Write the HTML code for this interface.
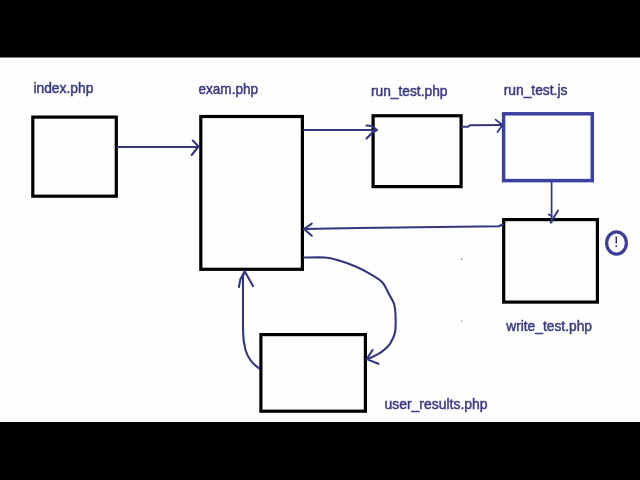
<!DOCTYPE html>
<html><head><meta charset="utf-8">
<style>
html,body{margin:0;padding:0;background:#fff;width:640px;height:480px;overflow:hidden}
svg{display:block;filter:blur(0.35px)}
text{font-family:"Liberation Sans",sans-serif;font-size:15px;fill:#393b80;stroke:#393b80;stroke-width:0.5px}
</style></head><body>
<svg width="640" height="480" viewBox="0 0 640 480">
<rect x="0" y="0" width="640" height="480" fill="#fefefe"/>
<rect x="0" y="0" width="640" height="57.5" fill="#000"/>
<rect x="0" y="422" width="640" height="58" fill="#000"/>

<g fill="none" stroke="#000" stroke-width="3.2">
<rect x="32.8" y="117.1" width="83.5" height="79.1"/>
<rect x="200.8" y="116.5" width="101.6" height="152.8"/>
<rect x="373.1" y="115.75" width="88" height="70.85"/>
<rect x="503.7" y="219.6" width="93.7" height="82.5"/>
<rect x="260.9" y="334.6" width="104.5" height="76.6"/>
</g>
<rect x="503.6" y="113.8" width="88.7" height="66.8" fill="none" stroke="#3c41a0" stroke-width="3.5"/>

<g fill="none" stroke="#33367e" stroke-width="2.1" stroke-linecap="round" stroke-linejoin="round">
<!-- index -> exam -->
<path d="M118 147 L199 147"/>
<path d="M192.8 140.5 L198.5 146.5 L191.7 155"/>
<!-- exam -> run_test -->
<path d="M304 130 L373 130"/>
<path d="M366.5 125.5 L372 126 L377 130 L373 132 L366.5 138.5"/>
<!-- run_test -> run_test.js -->
<path d="M462 126.8 L468 126.8 L470 125.2 L502 125"/>
<path d="M495.6 119.6 L502.5 125 L497.5 132" stroke-width="1.8"/>
<!-- run_test.js -> write_test -->
<path d="M551.6 182 L551.6 222.5" stroke-width="1.7"/>
<path d="M548.8 214.5 L551.5 215.8 M558 210.6 L550.6 222.6" stroke-width="1.9"/>
<!-- write_test -> exam -->
<path d="M304 229 L358 228 L499 226.3 L503 224.3"/>
<path d="M311.8 223.6 L304 229 L311.8 235.7"/>
<!-- exam -> user_results curve -->
<path d="M304.0 257.5 C307.5 257.5 319.4 257.1 325.0 257.5 C330.6 257.9 332.5 258.5 337.5 260.0 C342.5 261.5 349.6 264.0 355.0 266.2 C360.4 268.5 365.4 271.0 370.0 273.8 C374.6 276.5 379.4 279.2 382.5 282.5 C385.6 285.8 386.8 290.2 388.8 293.8 C390.7 297.3 392.9 300.2 394.0 303.8 C395.1 307.3 395.3 310.2 395.5 315.0 C395.7 319.8 395.9 327.7 395.0 332.5 C394.1 337.3 392.1 340.6 390.0 343.8 C387.9 346.9 385.4 349.0 382.5 351.2 C379.6 353.5 375.1 355.7 372.5 357.0 C369.9 358.3 367.7 358.8 366.7 359.1"/>
<path d="M372.5 350 L366.7 359.1 L378.4 363.8"/>
<!-- user_results -> exam -->
<path d="M259.2 368.3 C253 364.5 248 358 245.5 350 C243.8 344 243 338 243 330 L243 276 L244.4 272.5"/>
<path d="M238.9 287 L240.3 279.6 L244.7 271.2 L253.1 286.2"/>
</g>

<circle cx="461.6" cy="259" r="0.7" fill="#666"/>
<circle cx="461.6" cy="321" r="0.7" fill="#888"/>
<!-- warning circle -->
<ellipse cx="616.5" cy="243" rx="9.9" ry="11.1" fill="none" stroke="#3b3d98" stroke-width="3.2"/>
<path d="M616.3 236.5 L616.3 243.5" stroke="#30305a" stroke-width="1.5"/>
<circle cx="616.3" cy="246.2" r="0.9" fill="#30305a"/>

<text x="33.4" y="92.8" textLength="60" lengthAdjust="spacingAndGlyphs">index.php</text>
<text x="198.5" y="93.6" textLength="59.5" lengthAdjust="spacingAndGlyphs">exam.php</text>
<text x="370.9" y="96.3" textLength="76.6" lengthAdjust="spacingAndGlyphs">run_test.php</text>
<text x="503.7" y="94.5" textLength="63.7" lengthAdjust="spacingAndGlyphs">run_test.js</text>
<text x="506.2" y="331.4" textLength="85.8" lengthAdjust="spacingAndGlyphs">write_test.php</text>
<text x="384.4" y="408.7" textLength="103.2" lengthAdjust="spacingAndGlyphs">user_results.php</text>
</svg>
</body></html>
